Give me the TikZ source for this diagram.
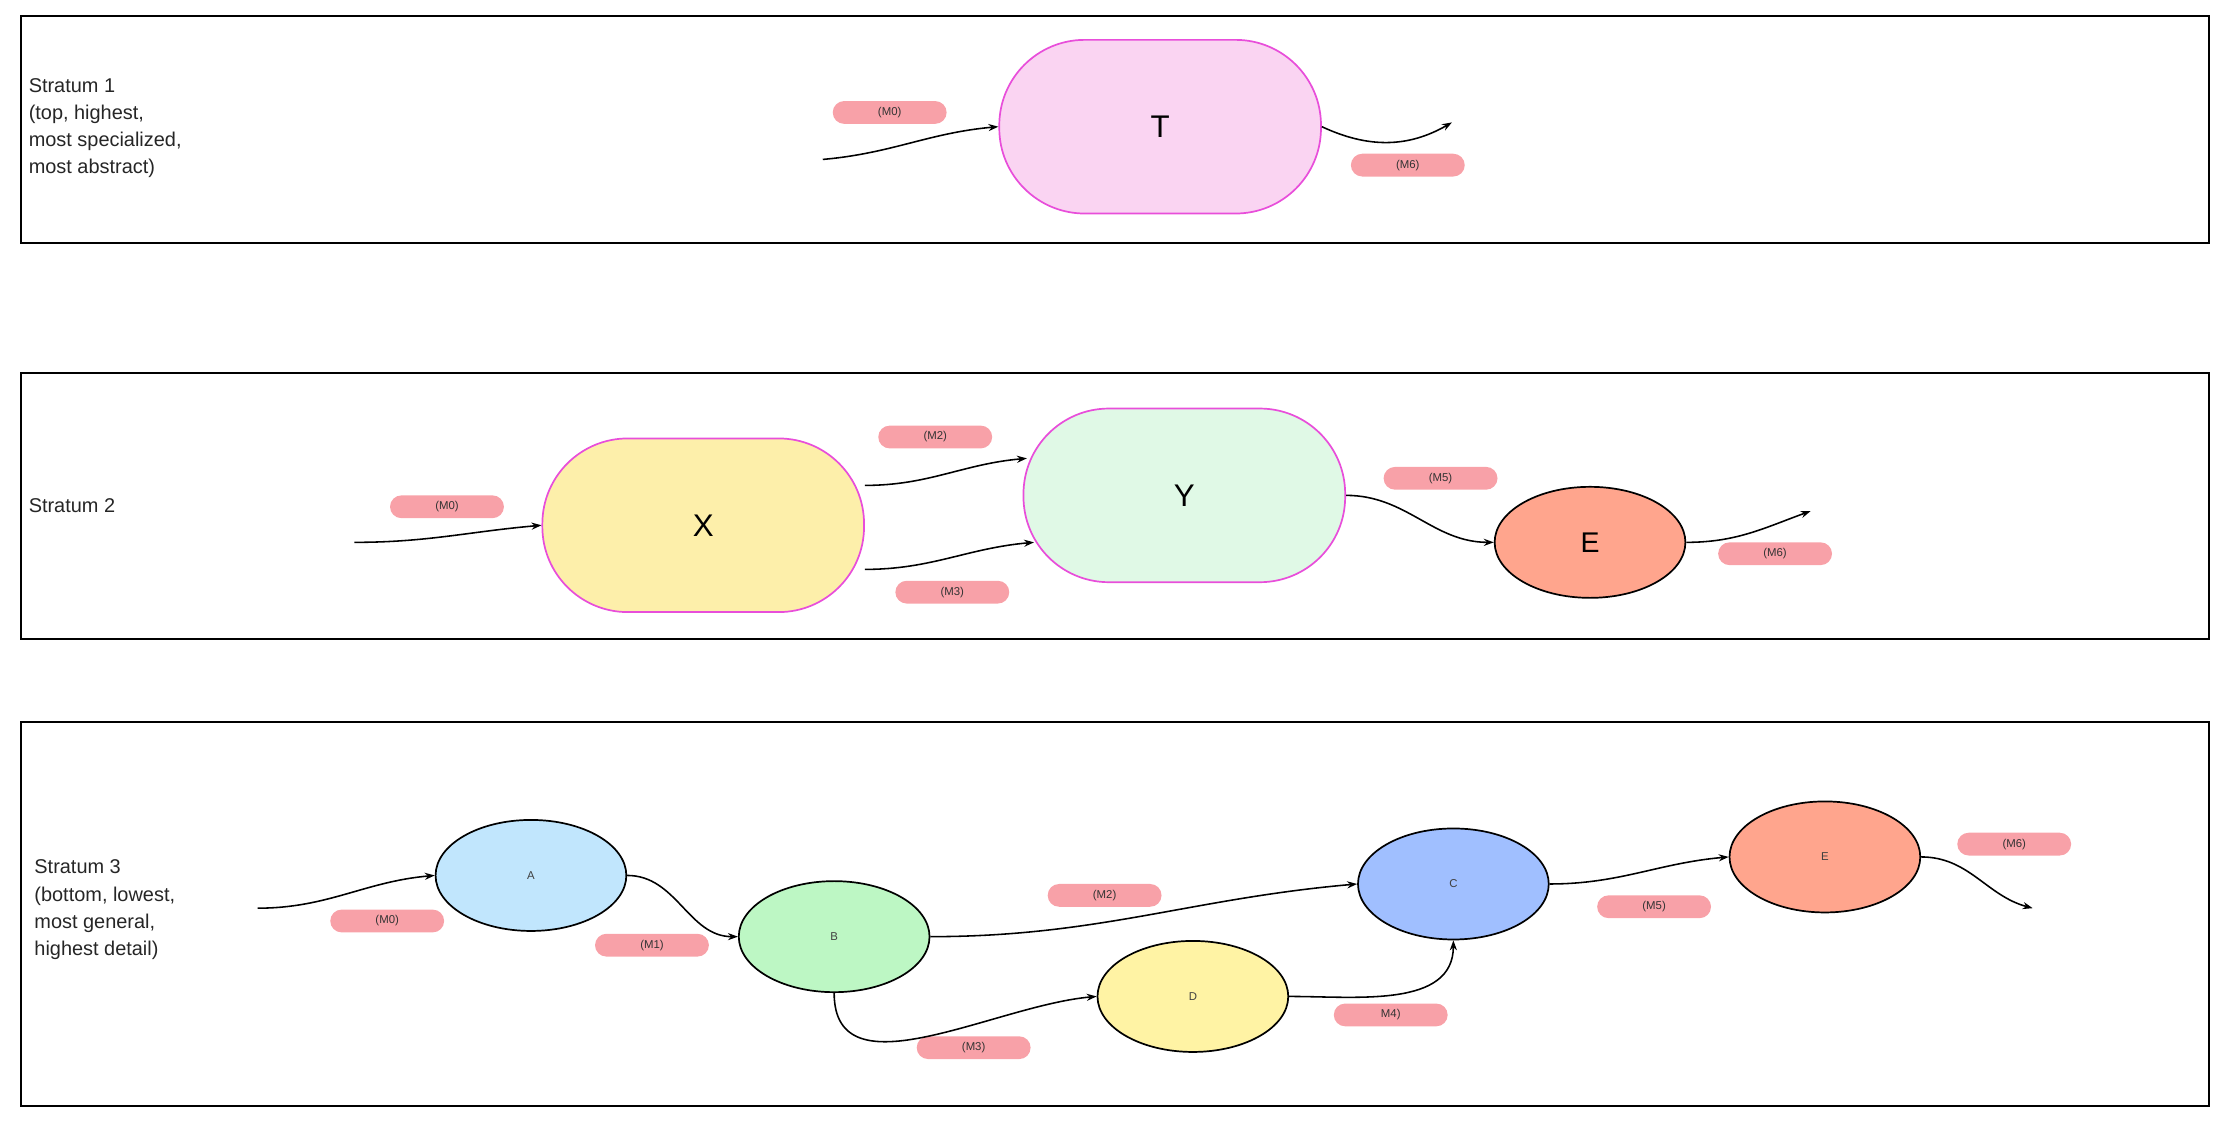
\documentclass[tikz,border=0pt]{standalone}
\usepackage{fontspec}
\setmainfont{Liberation Sans}
\usetikzlibrary{shapes.geometric,arrows.meta}
\definecolor{pillc}{HTML}{F8A1A8}
\definecolor{mag}{HTML}{E84EDA}
\definecolor{cT}{HTML}{FAD4F2}
\definecolor{cX}{HTML}{FDEFAA}
\definecolor{cY}{HTML}{E0F9E6}
\definecolor{cE}{HTML}{FFA58D}
\definecolor{cA}{HTML}{C1E6FD}
\definecolor{cB}{HTML}{BDF7C4}
\definecolor{cC}{HTML}{A0BFFF}
\definecolor{cD}{HTML}{FFF3A4}
\tikzset{
 frame/.style={draw=black,line width=1.3pt},
 pill/.style={fill=pillc,rounded corners=8pt,minimum width=80pt,minimum height=16pt,inner sep=0pt,font=\fontsize{8}{9}\selectfont,text=black!80},
 bigbox/.style={draw=mag,line width=1.2pt,rounded corners=60pt,minimum width=226pt,minimum height=122pt,inner sep=0pt,font=\fontsize{22}{24}\selectfont},
 oval/.style={ellipse,draw=black,line width=1.2pt,minimum width=134pt,minimum height=78pt,inner sep=0pt},
 conn/.style={line width=1.1pt,-{Stealth[length=7pt,width=5pt]}},
 strat/.style={anchor=north west,align=left,font=\fontsize{14}{19}\selectfont,inner sep=0pt,text=black!85},
 small/.style={font=\fontsize{8}{9}\selectfont,text=black!75},
}
\begin{document}
\begin{tikzpicture}[x=1pt,y=1pt]
\useasboundingbox (0,0) rectangle (1568,-792);
\draw[frame] (15,-11) rectangle (1552,-171);
\draw[frame] (15,-262) rectangle (1552,-449);
\draw[frame] (15,-507) rectangle (1552,-777);
% stratum 1
\node[strat] (s1) at (20,-55) {Stratum 1\\(top, highest,\\most specialized,\\most abstract)};
\node[bigbox,fill=cT] (T) at (815,-89) {T};
\coordinate (t0) at (578,-112);
\coordinate (t1) at (1020,-86);
\node[pill] (m0a) at (625,-79) {(M0)};
\node[pill] (m6a) at (989,-116) {(M6)};
\draw[conn] (t0) to[out=5,in=185] (T.west);
\draw[conn] (T.east) to[out=-25,in=210] (t1);
% stratum 2
\node[strat,anchor=west] (s2) at (20,-355) {Stratum 2};
\node[bigbox,fill=cX] (X) at (494,-369) {X};
\node[bigbox,fill=cY] (Y) at (832,-348) {Y};
\node[oval,fill=cE,font=\fontsize{20}{22}\selectfont] (E2) at (1117,-381) {E};
\coordinate (x0) at (249,-381);
\coordinate (e2o) at (1272,-359);
\node[pill] (m0b) at (314,-356) {(M0)};
\node[pill] (m2b) at (657,-307) {(M2)};
\node[pill] (m3b) at (669,-416) {(M3)};
\node[pill] (m5b) at (1012,-336) {(M5)};
\node[pill] (m6b) at (1247,-389) {(M6)};
\draw[conn] (x0) to[out=0,in=185] (X.west);
\draw[conn] ([yshift=28pt]X.east) to[out=0,in=185] ([xshift=3pt,yshift=26pt]Y.west);
\draw[conn] ([yshift=-31pt]X.east) to[out=0,in=185] ([xshift=8pt,yshift=-33pt]Y.west);
\draw[conn] (Y.east) to[out=0,in=180] (E2.west);
\draw[conn] (E2.east) to[out=0,in=200] (e2o);
% stratum 3
\node[strat] (s3) at (24,-604) {Stratum 3\\(bottom, lowest,\\most general,\\highest detail)};
\node[oval,fill=cA,small] (A) at (373,-615) {A};
\node[oval,fill=cB,small] (B) at (586,-658) {B};
\node[oval,fill=cC,small] (C) at (1021,-621) {C};
\node[oval,fill=cD,small] (D) at (838,-700) {D};
\node[oval,fill=cE,small] (E3) at (1282,-602) {E};
\coordinate (a0) at (181,-638);
\coordinate (e3o) at (1428,-638);
\node[pill] (m0c) at (272,-647) {(M0)};
\node[pill] (m1c) at (458,-664) {(M1)};
\node[pill] (m2c) at (776,-629) {(M2)};
\node[pill] (m3c) at (684,-736) {(M3)};
\node[pill] (m4c) at (977,-713) {M4)};
\node[pill] (m5c) at (1162,-637) {(M5)};
\node[pill] (m6c) at (1415,-593) {(M6)};
\draw[conn] (a0) to[out=0,in=185] (A.west);
\draw[conn] (A.east) to[out=0,in=180] (B.west);
\draw[conn] (B.east) to[out=0,in=185] (C.west);
\draw[conn] (B.south) to[out=-90,in=185] (D.west);
\draw[conn] (D.east) to[out=0,in=-90] (C.south);
\draw[conn] (C.east) to[out=0,in=185] (E3.west);
\draw[conn] (E3.east) to[out=0,in=165] (e3o);
\end{tikzpicture}
\end{document}
